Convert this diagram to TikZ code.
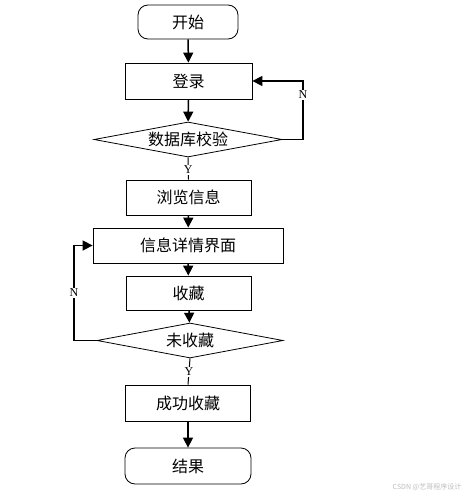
\documentclass[tikz,border=0pt]{standalone}
\usepackage{fontspec}
\usepackage{xcolor}
\usetikzlibrary{shapes.geometric,arrows.meta}
\setmainfont{Liberation Serif}
\newfontfamily\cjk{Noto Sans CJK SC}
\definecolor{mark}{RGB}{190,190,190}
\tikzstyle{box}=[draw, thick, minimum width=125pt, minimum height=35pt, inner sep=0pt, font=\cjk\fontsize{16}{16}\selectfont]
\tikzstyle{terminal}=[box, rounded corners=10pt, minimum width=100pt, minimum height=34pt]
\tikzstyle{check}=[diamond, draw, thick, shape aspect=5.3, minimum width=188pt, minimum height=35pt, inner sep=0pt, font=\cjk\fontsize{16}{16}\selectfont]
\tikzset{flow/.style={-{Triangle[width=10pt,length=10pt]}, line width=1.5pt}}
\tikzset{plain/.style={line width=1pt}}
\tikzset{answer/.style={font=\fontsize{12}{12}\selectfont, fill=white, inner sep=1pt}}

\begin{document}
\begin{tikzpicture}[x=1pt,y=-1pt]
  \useasboundingbox[fill=white] (0,0) rectangle (474,495);
  \draw (188,22) node[terminal] (Start) {开始};
  \draw (188.5,81) node[box, minimum width=127pt, minimum height=36pt] (Login) {登录};
  \draw (188,139.5) node[check] (Verify) {数据库校验};
  \draw (188.5,197.5) node[box] (Browse) {浏览信息};
  \draw (188,245.5) node[box, minimum width=190pt] (Detail) {信息详情界面};
  \draw (188.5,293) node[box, minimum height=34pt] (Collect) {收藏};
  \draw (190,340.5) node[check, minimum width=186pt] (Uncollected) {未收藏};
  \draw (188,403) node[box, minimum height=36pt] (Success) {成功收藏};
  \draw (188,466) node[terminal, minimum width=126pt, minimum height=36pt] (Finish) {结果};

  %% Main path
  \draw[flow] (Start) -- (Login);
  \draw[flow] (Login) -- (Verify);
  \draw[plain] (Verify.south) -- (Browse.north) node[pos=0.55, answer] {Y};
  \draw[flow] (Browse) -- (Detail);
  \draw[flow] (Detail) -- (Collect);
  \draw[flow] (Collect) -- (Uncollected);
  \draw[plain] (Uncollected.south) -- (Success.north) node[pos=0.52, answer] {Y};
  \draw[flow] (Success) -- (Finish);

  %% Loops back
  \coordinate (LoginBack) at (303,139.5);
  \coordinate (DetailBack) at (74,340.5);
  \draw[plain] (Verify.east) -- (LoginBack);
  \draw[flow] (LoginBack) |- (Login.east) node[pos=0.38, answer] {N};
  \draw[plain] (Uncollected.west) -- (DetailBack);
  \draw[flow] (DetailBack) |- (Detail.west) node[pos=0.25, answer] {N};

  %% Watermark
  \draw (427,487) node[text=mark, font=\cjk\fontsize{7}{7}\selectfont] (Mark) {CSDN @艺哥程序设计};
\end{tikzpicture}
\end{document}
